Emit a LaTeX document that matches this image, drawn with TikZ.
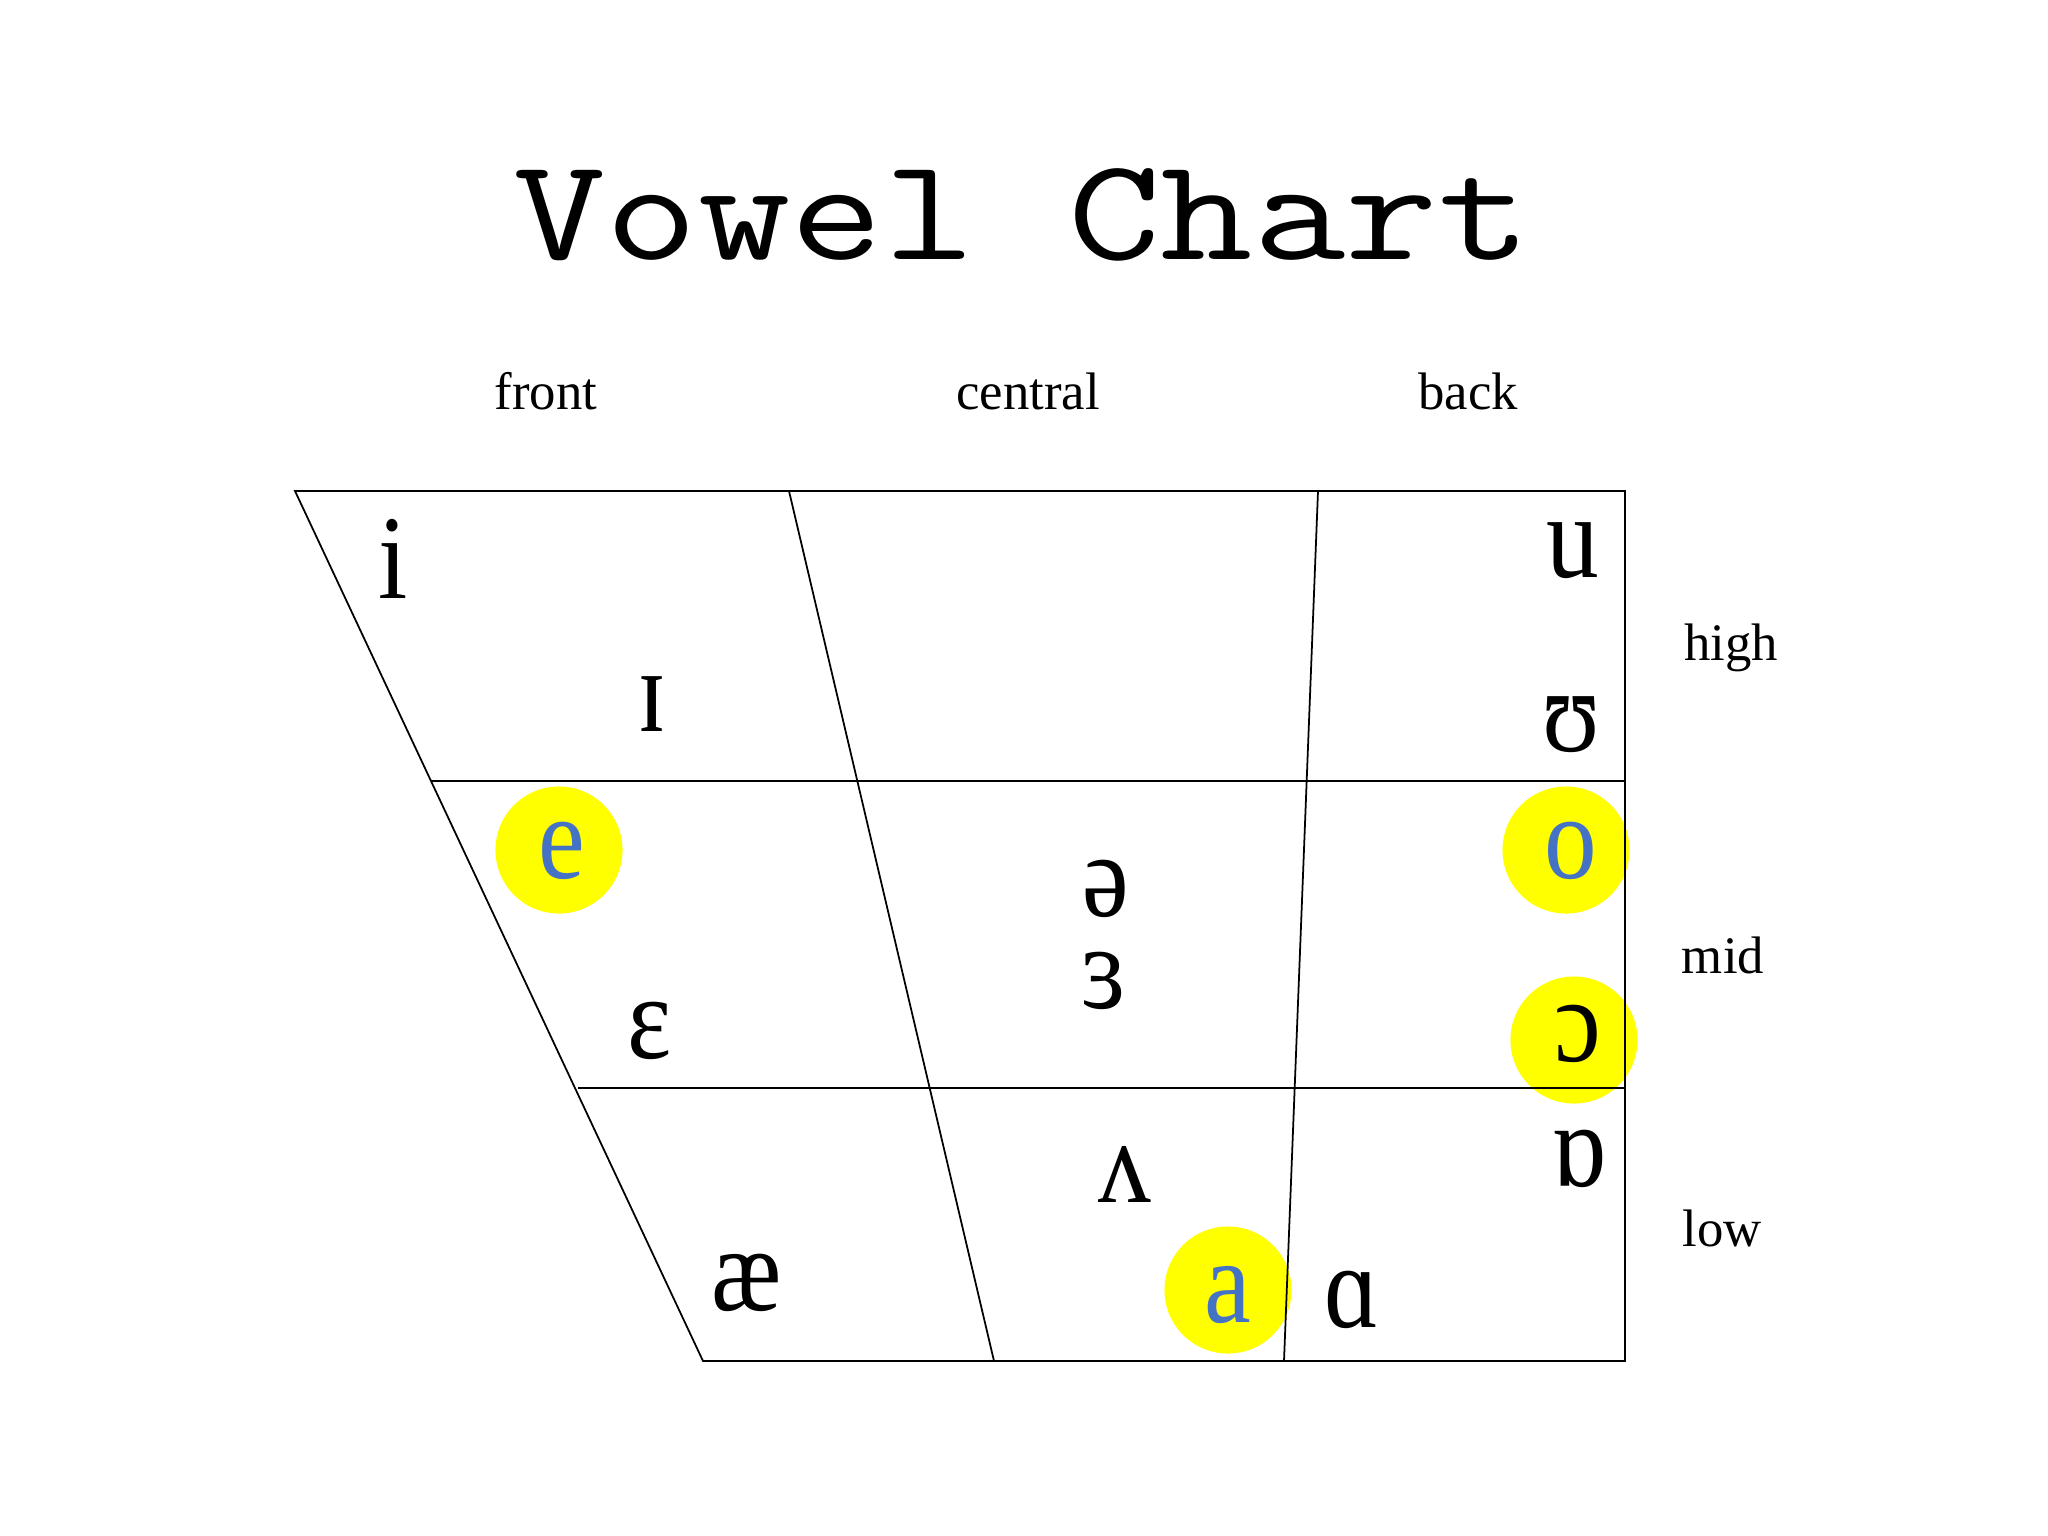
\documentclass[tikz,border=0pt]{standalone}
\usepackage{fontspec}
\setmainfont{Liberation Serif}
\newfontfamily\titlefont[FakeStretch=1.23]{Latin Modern Mono}
\newfontfamily\ipafont[FakeStretch=0.88]{Liberation Serif}
\definecolor{vowelblue}{HTML}{4472C4}
\definecolor{markyellow}{HTML}{FFFF00}

\begin{document}
\begin{tikzpicture}[x=0.01cm, y=-0.01cm]
%% the chart is laid out on a 2048 x 1536 grid, y runs downwards
%% vowel nodes are placed by their baseline
\tikzstyle{grid}=[line width=0.5pt]
\tikzstyle{vowel}=[anchor=base, inner sep=0pt, font=\ipafont\fontsize{34}{34}\selectfont]
\tikzstyle{markedvowel}=[vowel, text=vowelblue]
\tikzstyle{marker}=[circle, fill=markyellow, minimum size=1.27cm, inner sep=0pt]
\tikzstyle{axislabel}=[anchor=base, inner sep=0pt, font=\fontsize{15}{15}\selectfont]
\useasboundingbox (0,0) rectangle (2048,1536);
%% title
\node[anchor=base, inner sep=0pt, font=\titlefont\fontsize{41.5}{41.5}\selectfont] at (1022,259) (title) {Vowel Chart};
%% column labels
\node[axislabel] at (546,409) (front) {front};
\node[axislabel] at (1028,409) (central) {central};
\node[axislabel] at (1468,409) (back) {back};
%% row labels
\node[axislabel] at (1731,660) (high) {high};
\node[axislabel] at (1723,973) (mid) {mid};
\node[axislabel] at (1722,1246) (low) {low};
%% highlight circles
\node[marker] at (559,850) (mark_e) {};
\node[marker] at (1566,850) (mark_o) {};
\node[marker] at (1574,1040) (mark_oo) {};
\node[marker] at (1228,1290) (mark_a) {};
%% chart corners
\coordinate (TL) at (295,491);
\coordinate (TR) at (1625,491);
\coordinate (BR) at (1625,1361);
\coordinate (BL) at (703,1361);
\coordinate (ML) at (431,781);
\coordinate (MR) at (1625,781);
\coordinate (LL) at (578,1088);
\coordinate (LR) at (1625,1088);
\coordinate (D1_top) at (789,491);
\coordinate (D1_bot) at (994,1361);
\coordinate (D2_top) at (1318,491);
\coordinate (D2_bot) at (1284,1361);
%% chart lines
\draw[grid] (TL) -- (TR) -- (BR) -- (BL) -- cycle;
\draw[grid] (ML) -- (MR);
\draw[grid] (LL) -- (LR);
\draw[grid] (D1_top) -- (D1_bot);
\draw[grid] (D2_top) -- (D2_bot);
%% vowels
\node[vowel] at (393,598) (v_i) {i};
\node[vowel] at (652,731) (v_I) {ɪ};
\node[vowel] at (1573,577) (v_u) {u};
\node[vowel] at (1571,751) (v_U) {ʊ};
\node[markedvowel] at (562,878) (v_e) {e};
\node[markedvowel] at (1571,878) (v_o) {o};
\node[vowel] at (1106,916) (v_schwa) {ə};
\node[vowel] at (1104,1008) (v_er) {ɜ};
\node[vowel] at (650,1058) (v_eps) {ɛ};
\node[vowel] at (1578,1061) (v_oo) {ɔ};
\node[vowel] at (1579,1186) (v_ob) {ɒ};
\node[vowel] at (1125,1202) (v_wedge) {ʌ};
\node[vowel] at (747,1310) (v_ae) {æ};
\node[markedvowel] at (1228,1322) (v_a) {a};
\node[vowel] at (1352,1327) (v_alpha) {ɑ};
\end{tikzpicture}
\end{document}
